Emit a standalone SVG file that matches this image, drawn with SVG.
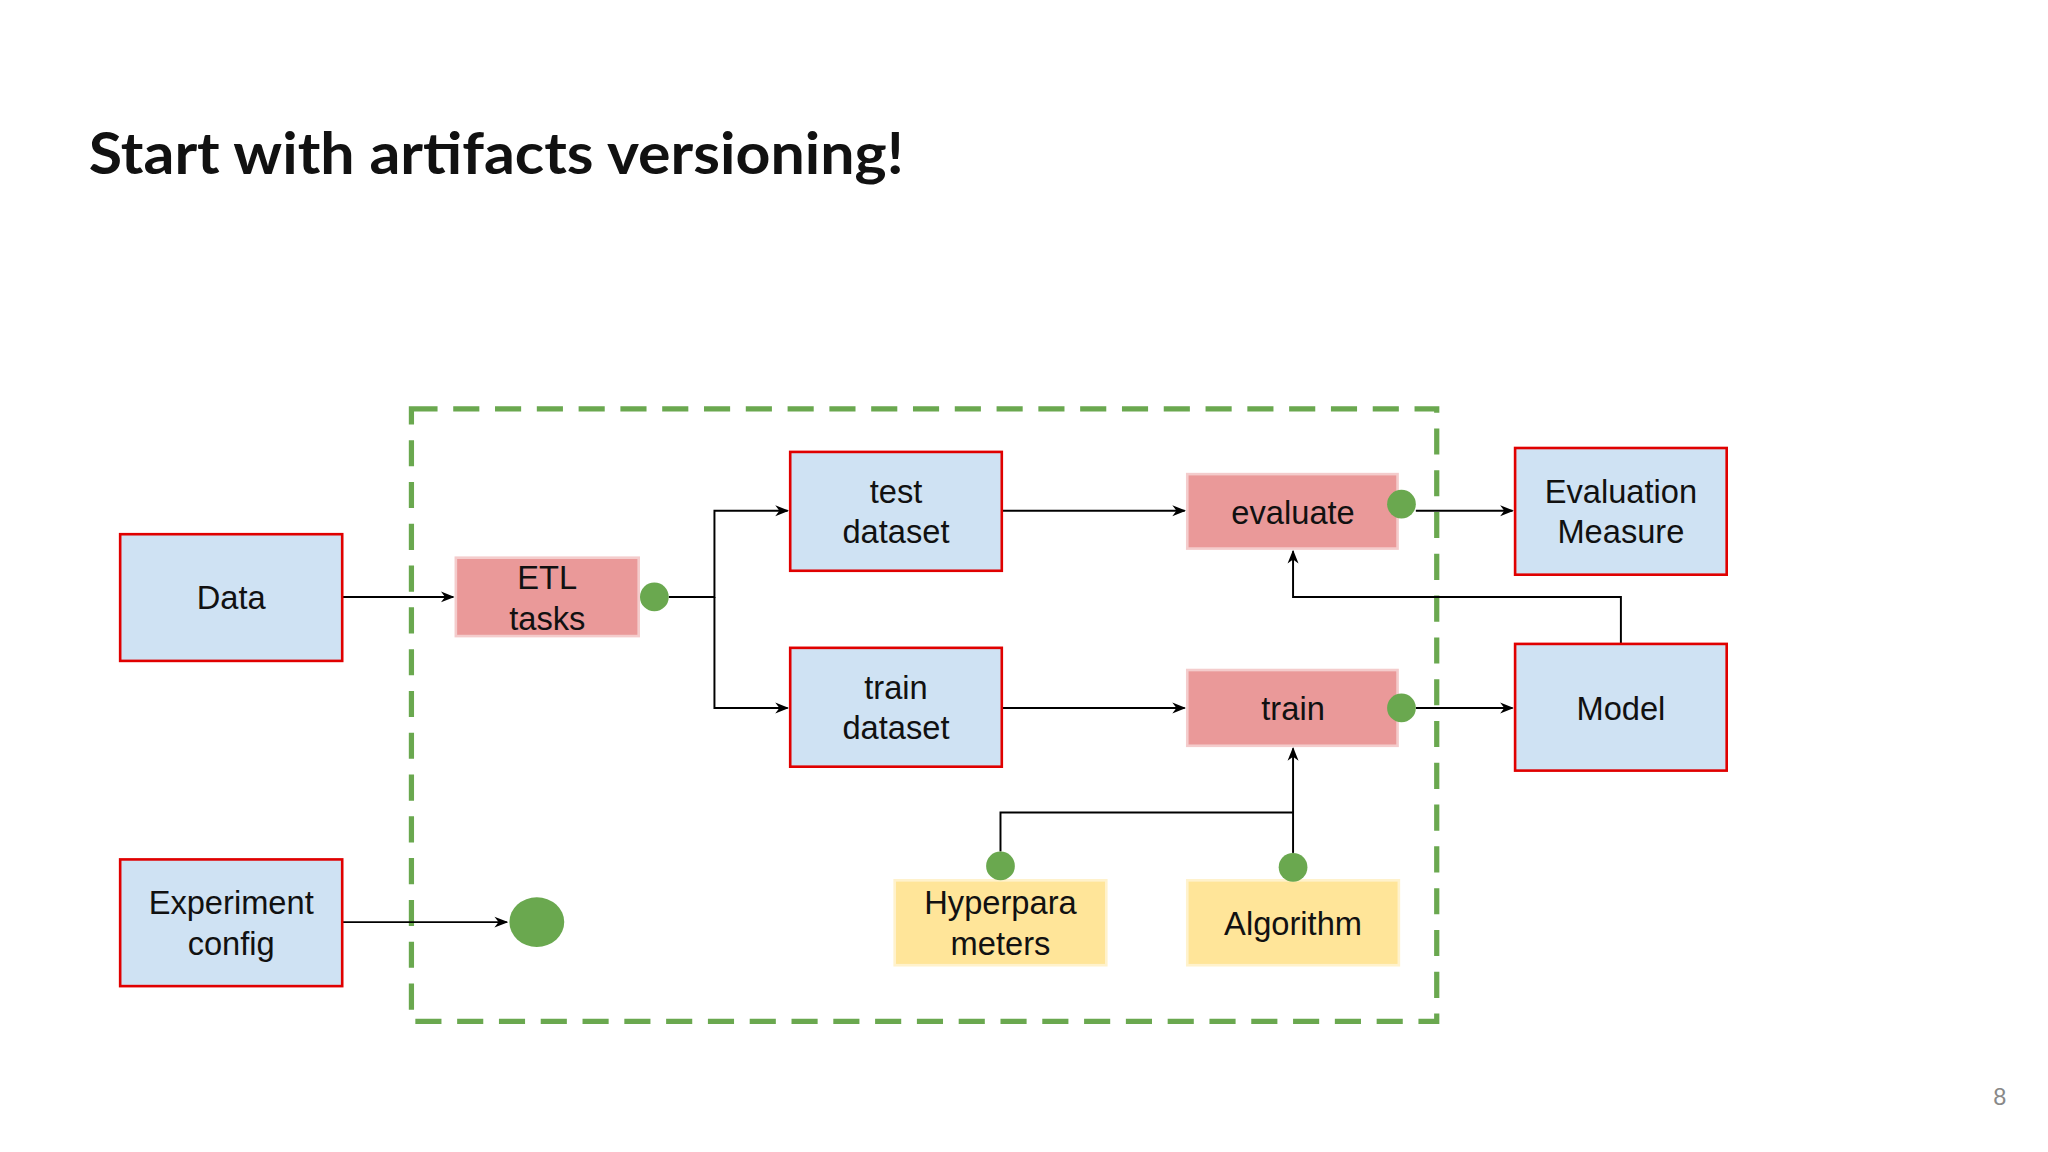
<svg xmlns="http://www.w3.org/2000/svg" width="2048" height="1152" viewBox="0 0 2048 1152">
<style>
.b{fill:#cfe2f3;stroke:#e00000;stroke-width:2}
.p{fill:#ea9999;stroke:#f4cccc;stroke-width:2}
.y{fill:#ffe599;stroke:#fff2cc;stroke-width:2}
.d{fill:#6aa84f}
text{font-family:"Liberation Sans",Arial,sans-serif;font-size:25px;fill:#111;text-anchor:middle}
.c path{fill:none;stroke:#000;stroke-width:1.5}
</style>
<defs><marker id="a" viewBox="0 0 10 10" refX="9" refY="5" markerWidth="7" markerHeight="7" orient="auto"><path d="M0,1L10,5L0,9L3,5z" fill="#000"/></marker></defs>
<rect width="2048" height="1152" fill="#fff"/>
<g transform="scale(1.30612)">
<text x="68" y="133" textLength="624" lengthAdjust="spacingAndGlyphs" style="font-family:Lato,'Open Sans',sans-serif;font-size:44px;font-weight:bold;text-anchor:start">Start with artifacts versioning!</text>
<text x="1531" y="846" style="font-size:18px;fill:#888">8</text>
<rect x="315" y="313" width="785" height="469" fill="none" stroke="#6aa84f" stroke-width="4" stroke-dasharray="20 12"/>
<g class="c">
<path d="M262,457H347" marker-end="url(#a)"/>
<path d="M512,457H547V391H603" marker-end="url(#a)"/>
<path d="M547,457V542H603" marker-end="url(#a)"/>
<path d="M767,391H907" marker-end="url(#a)"/>
<path d="M767,542H907" marker-end="url(#a)"/>
<path d="M1084,391H1158" marker-end="url(#a)"/>
<path d="M1084,542H1158" marker-end="url(#a)"/>
<path d="M1241,493V457H990V422" marker-end="url(#a)"/>
<path d="M766,652V622H990"/>
<path d="M990,653V573" marker-end="url(#a)"/>
<path d="M262,706H388" marker-end="url(#a)"/>
</g>
<g id="data"><rect class="b" x="92" y="409" width="170" height="97"/><text x="177" y="466">Data</text></g>
<g id="exp"><rect class="b" x="92" y="658" width="170" height="97"/><text x="177" y="700">Experiment</text><text x="177" y="731">config</text></g>
<g id="expdot"><ellipse class="d" cx="411" cy="706" rx="21" ry="19"/></g>
<g id="etl"><rect class="p" x="349" y="427" width="140" height="60"/><text x="419" y="451">ETL</text><text x="419" y="482">tasks</text><circle class="d" cx="501" cy="457" r="11"/></g>
<g id="test"><rect class="b" x="605" y="346" width="162" height="91"/><text x="686" y="385">test</text><text x="686" y="416">dataset</text></g>
<g id="trainds"><rect class="b" x="605" y="496" width="162" height="91"/><text x="686" y="535">train</text><text x="686" y="566">dataset</text></g>
<g id="eval"><rect class="p" x="909" y="363" width="161" height="57"/><text x="990" y="401">evaluate</text><circle class="d" cx="1073" cy="386" r="11"/></g>
<g id="train"><rect class="p" x="909" y="513" width="161" height="58"/><text x="990" y="551">train</text><circle class="d" cx="1073" cy="542" r="11"/></g>
<g id="em"><rect class="b" x="1160" y="343" width="162" height="97"/><text x="1241" y="385">Evaluation</text><text x="1241" y="416">Measure</text></g>
<g id="model"><rect class="b" x="1160" y="493" width="162" height="97"/><text x="1241" y="551">Model</text></g>
<g id="hyper"><rect class="y" x="685" y="674" width="162" height="65"/><text x="766" y="700">Hyperpara</text><text x="766" y="731">meters</text><circle class="d" cx="766" cy="663" r="11"/></g>
<g id="algo"><rect class="y" x="909" y="674" width="162" height="65"/><text x="990" y="716">Algorithm</text><circle class="d" cx="990" cy="664" r="11"/></g>
</g>
</svg>
